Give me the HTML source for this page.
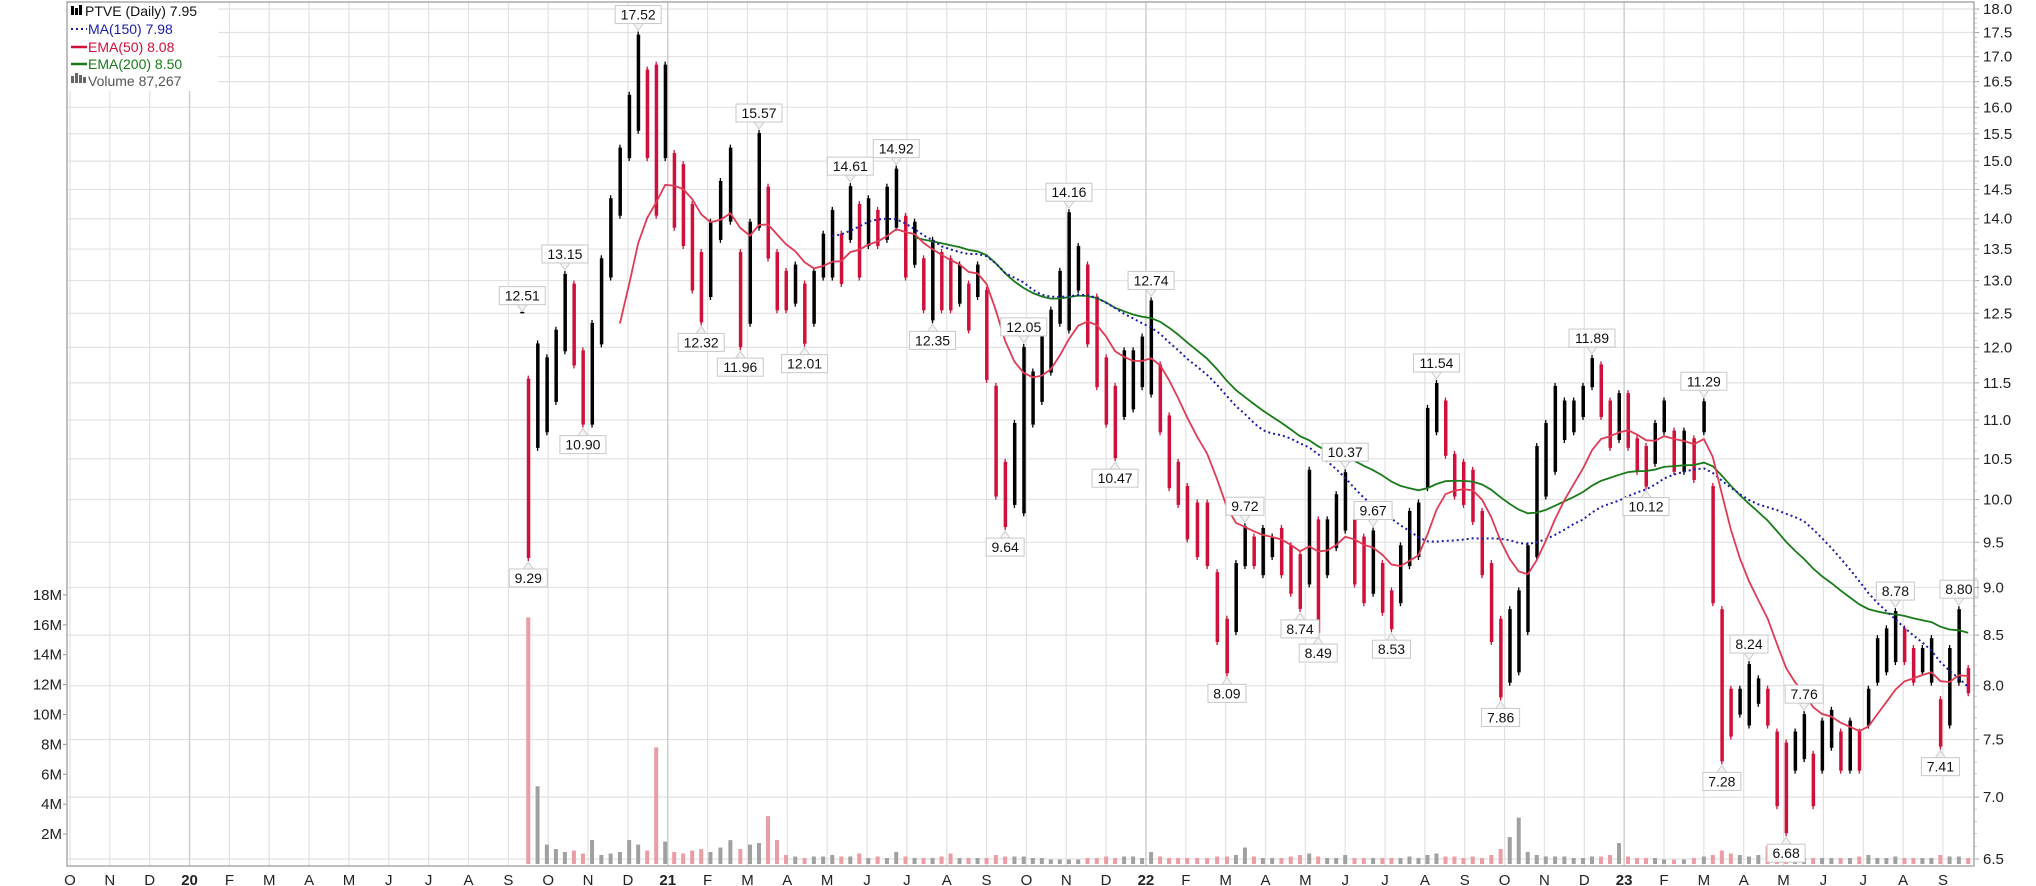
<!DOCTYPE html>
<html><head><meta charset="utf-8"><style>
html,body{margin:0;padding:0;background:#fff;}
svg{display:block;font-family:"Liberation Sans",Arial,sans-serif;}
</style></head><body>
<svg id="chart" width="2036" height="886" viewBox="0 0 2036 886" xmlns="http://www.w3.org/2000/svg">
<g id="grid"></g>
<g id="vol"></g>
<g id="bars"></g>
<g id="lines"></g>
<g id="labels"></g>
<g id="axes"></g>
<g id="legend">
  <rect x="68" y="3" width="150" height="88" fill="#fff"/>
  <g>
    <rect x="71" y="6" width="3" height="9" fill="#000"/><rect x="75" y="8" width="3" height="7" fill="#000"/><rect x="79" y="5" width="3" height="10" fill="#000"/>
    <text x="85" y="16" font-size="14" fill="#111">PTVE (Daily) 7.95</text>
  </g>
  <g>
    <line x1="71" y1="29" x2="87" y2="29" stroke="#1c1ca8" stroke-width="2" stroke-dasharray="2,3"/>
    <text x="88" y="34" font-size="14" fill="#1c1ca8">MA(150) 7.98</text>
  </g>
  <g>
    <line x1="71" y1="47" x2="87" y2="47" stroke="#d0103a" stroke-width="2.5"/>
    <text x="88" y="52" font-size="14" fill="#d0103a">EMA(50) 8.08</text>
  </g>
  <g>
    <line x1="71" y1="64" x2="87" y2="64" stroke="#1a7a1a" stroke-width="2.5"/>
    <text x="88" y="69" font-size="14" fill="#1a7a1a">EMA(200) 8.50</text>
  </g>
  <g>
    <rect x="71" y="76" width="3" height="7" fill="#666"/><rect x="75" y="73" width="3" height="10" fill="#666"/><rect x="79" y="75" width="3" height="8" fill="#666"/><rect x="83" y="77" width="3" height="6" fill="#666"/>
    <text x="88" y="86" font-size="14" fill="#555">Volume 87,267</text>
  </g>
</g>
</svg>
<script>
// ---- data (weekly, starting week of 2020-09-14) ----
var startDate = [2020, 9, 14];
var highs = [11.6,12.1,11.9,12.3,13.15,13.0,12.0,12.4,13.4,14.4,15.3,16.3,17.52,16.8,16.9,16.9,
15.2,15.0,14.3,13.5,14.0,14.7,15.3,13.5,14.0,15.57,14.6,13.5,13.2,13.3,13.0,13.2,13.8,14.2,13.8,14.61,14.3,14.4,14.2,14.6,14.92,14.1,14.0,13.4,13.7,13.5,13.4,13.3,13.0,13.3,12.9,11.5,10.5,11.0,
12.05,11.7,12.2,12.6,13.2,14.16,13.6,13.3,12.8,11.9,11.5,12.0,12.0,12.2,12.74,11.8,11.1,10.5,10.2,10.0,10.0,9.2,8.7,9.3,9.72,9.6,9.7,9.6,9.7,9.5,9.4,10.4,9.8,9.8,10.1,10.37,9.8,9.6,9.67,9.3,9.0,9.5,9.9,10.0,11.2,11.54,11.3,10.6,10.5,10.4,9.9,9.3,
8.7,8.8,9.0,9.5,10.7,11.0,11.5,11.3,11.3,11.5,11.89,11.8,11.3,11.4,11.4,10.8,10.7,11.0,11.3,10.9,10.9,10.8,11.29,10.2,8.8,8.0,8.0,8.24,8.1,8.0,7.6,7.5,7.6,7.76,7.4,7.7,7.8,7.6,7.7,7.6,8.0,8.5,8.6,8.78,8.6,8.4,8.4,8.5,7.9,8.4,8.80,8.2];
var lows = [9.29,10.6,10.8,11.2,11.9,11.7,10.9,10.9,12.0,13.0,14.0,15.0,15.5,15.0,14.0,15.0,
13.8,13.5,12.8,12.32,12.7,13.6,13.9,11.96,12.3,13.8,13.3,12.5,12.5,12.6,12.01,12.3,13.0,13.0,12.9,13.6,13.0,13.5,13.5,13.6,13.8,13.0,13.2,12.5,12.35,12.5,12.5,12.6,12.2,12.7,11.5,10.0,9.64,9.9,
9.8,10.9,11.2,11.6,12.3,12.2,12.8,12.0,11.4,10.9,10.47,11.0,11.1,11.4,11.3,10.8,10.1,9.9,9.5,9.3,9.2,8.4,8.09,8.5,9.2,9.2,9.1,9.3,9.1,8.9,8.74,9.0,8.49,9.1,9.4,9.6,9.0,8.8,8.9,8.7,8.53,8.8,9.2,9.3,10.1,10.8,10.5,10.0,9.9,9.7,9.1,8.4,
7.86,8.0,8.1,8.5,9.3,10.0,10.3,10.7,10.8,11.0,11.4,11.0,10.6,10.7,10.6,10.3,10.12,10.4,10.8,10.3,10.3,10.2,10.8,8.8,7.28,7.5,7.7,7.6,7.8,7.6,6.9,6.68,7.2,7.3,6.9,7.2,7.4,7.2,7.2,7.2,7.6,8.0,8.1,8.2,8.2,8.0,8.1,8.0,7.41,7.6,8.0,7.9];
var volumes = [16.5,5.2,1.3,1.0,0.8,0.9,0.7,1.6,0.6,0.7,0.8,1.6,1.3,0.9,7.8,1.5,
0.8,0.7,0.9,1.0,0.8,1.1,1.6,1.0,1.3,1.4,3.2,1.6,0.6,0.5,0.4,0.5,0.5,0.6,0.5,0.5,0.7,0.4,0.5,0.4,0.8,0.5,0.4,0.4,0.4,0.5,0.7,0.4,0.4,0.4,0.4,0.6,0.5,0.5,
0.5,0.4,0.4,0.3,0.3,0.3,0.3,0.4,0.4,0.5,0.4,0.5,0.5,0.4,0.8,0.5,0.4,0.4,0.4,0.4,0.4,0.5,0.5,0.6,1.1,0.5,0.4,0.4,0.4,0.5,0.6,0.7,0.5,0.4,0.4,0.6,0.4,0.4,0.4,0.4,0.4,0.4,0.5,0.4,0.6,0.7,0.5,0.5,0.4,0.5,0.4,0.6,
1.0,1.8,3.1,0.8,0.6,0.5,0.5,0.5,0.4,0.4,0.5,0.5,0.6,1.4,0.5,0.4,0.4,0.4,0.3,0.3,0.3,0.4,0.5,0.6,0.9,0.7,0.6,0.5,0.6,1.2,0.6,0.5,0.5,0.4,0.4,0.4,0.4,0.4,0.4,0.5,0.6,0.4,0.4,0.5,0.4,0.4,0.4,0.4,0.6,0.5,0.5,0.4];
// annotations: [week index, 'h' or 'l']
var annotIdx = [0,4,6,12,19,23,25,30,35,40,44,54,52,59,64,68,76,78,84,86,89,92,94,99,106,116,122,128,130,133,137,139,149,154,156];
var annotType = ['l','h','l','h','l','l','h','l','h','h','l','h','l','h','l','h','l','h','l','l','h','h','l','h','l','h','l','h','l','h','l','h','h','l','h'];
var yTicks = [18.0,17.5,17.0,16.5,16.0,15.5,15.0,14.5,14.0,13.5,13.0,12.5,12.0,11.5,11.0,10.5,10.0,9.5,9.0,8.5,8.0,7.5,7.0,6.5];
var volTicks = [2,4,6,8,10,12,14,16,18];
var monthLabels = ['O','N','D','20','F','M','A','M','J','J','A','S','O','N','D','21','F','M','A','M','J','J','A','S','O','N','D','22','F','M','A','M','J','J','A','S','O','N','D','23','F','M','A','M','J','J','A','S'];

// ---- geometry ----
var L=67, R=1974, T=2, B=866;
var X0=70, MW=39.85;
var Y0=9, K=834.5, PMAX=18;
var VB=864, VPM=14.95;
function yP(p){return Y0 + K*Math.log(PMAX/p);}
function yV(v){return VB - v*VPM;}
function xMonth(m){return X0 + m*MW;}
function xWeek(i){
  var d=new Date(startDate[0],startDate[1]-1,startDate[2]+i*7+2);
  var y=d.getFullYear(), mo=d.getMonth(), day=d.getDate();
  var dim=new Date(y,mo+1,0).getDate();
  var m=(y-2019)*12+mo-9+(day-1)/dim;
  return xMonth(m);
}
var NS='http://www.w3.org/2000/svg';
function mk(tag,attrs,parent){var e=document.createElementNS(NS,tag);for(var k in attrs)e.setAttribute(k,attrs[k]);parent.appendChild(e);return e;}

var grid=document.getElementById('grid'), axes=document.getElementById('axes');
yTicks.forEach(function(p){
  var y=yP(p);
  var g=mk('line',{x1:L,x2:R,y1:y,y2:y,stroke:'#e2e2e2','stroke-width':1.2},grid);
  
  
  var t=mk('text',{x:1983,y:y+5,'font-size':15,fill:'#222'},axes);
  t.textContent=p.toFixed(1);
  
  
  mk('line',{x1:R,x2:R+5,y1:y,y2:y,stroke:'#999'},axes);
});
for(var p=6.5;p<=18.001;p+=0.1){var yy=yP(p);mk('line',{x1:R,x2:R+3,y1:yy,y2:yy,stroke:'#bbb','stroke-width':0.8},axes);}
monthLabels.forEach(function(lbl,m){
  var x=xMonth(m), isYear=/\d/.test(lbl);
  var g=mk('line',{x1:x,x2:x,y1:T,y2:B,stroke:isYear?'#cfcfcf':'#e2e2e2','stroke-width':isYear?1.5:1.2},grid);
  
  
  var t=mk('text',{x:x,y:885,'font-size':15,'text-anchor':'middle',fill:'#222','font-weight':isYear?'bold':'normal'},axes);
  t.textContent=lbl;
  
  
});
volTicks.forEach(function(v){
  var y=yV(v);
  var t=mk('text',{x:62,y:y+5,'font-size':15,'text-anchor':'end',fill:'#222'},axes);
  t.textContent=v+'M';
  
  
  mk('line',{x1:L-4,x2:L,y1:y,y2:y,stroke:'#999'},axes);
});
var fr=mk('rect',{x:L,y:T,width:R-L,height:B-T,fill:'none',stroke:'#aaa','stroke-width':1.5},axes);



var mids=highs.map(function(h,i){return (h+lows[i])/2;});
var up=mids.map(function(c,i){return i===0?false:c>=mids[i-1];});

var vol=document.getElementById('vol');
volumes.forEach(function(v,i){
  var x=xWeek(i), y=yV(v);
  var r=mk('rect',{x:x-2,y:y,width:4,height:VB-y,fill:up[i]?'#a0a0a0':'#eb9ca4'},vol);
  
  
});
var bars=document.getElementById('bars');
highs.forEach(function(h,i){
  var x=xWeek(i), y1=yP(h), y2=yP(lows[i]);
  var col=up[i]?'#000':'#d0103a';
  var r=mk('rect',{x:x-1.5,y:y1+3,width:3.5,height:Math.max(2,y2-y1-6),fill:col},bars);
  
  
  var w=mk('line',{x1:x,x2:x,y1:y1,y2:y2,stroke:col,'stroke-width':1.3},bars);
  
  
});

function ema(arr,n,start){var out=[],e=null;for(var i=0;i<arr.length;i++){if(i<start-1){out.push(null);continue;}
  if(e===null){var s=0;for(var j=i-n+1;j<=i;j++)s+=arr[Math.max(0,j)];e=s/n;}else{e=arr[i]*2/(n+1)+e*(1-2/(n+1));}out.push(e);}return out;}
function sma(arr,n,start){var out=[];for(var i=0;i<arr.length;i++){if(i<start-1||i<n-1){out.push(null);continue;}var s=0;for(var j=i-n+1;j<=i;j++)s+=arr[j];out.push(s/n);}return out;}
var ema50=ema(mids,10,11), ma150=sma(mids,30,34), ema200=ema(mids,40,43);
function pathOf(a){var d='';a.forEach(function(v,i){if(v===null)return;d+=(d?'L':'M')+xWeek(i).toFixed(1)+','+yP(v).toFixed(1);});return d;}
var lines=document.getElementById('lines');
var l1=mk('path',{d:pathOf(ema200),fill:'none',stroke:'#1a7a1a','stroke-width':1.8},lines);


var l2=mk('path',{d:pathOf(ma150),fill:'none',stroke:'#1c1ca8','stroke-width':2,'stroke-dasharray':'2,3'},lines);


var l3=mk('path',{d:pathOf(ema50),fill:'none',stroke:'#e03a55','stroke-width':1.8},lines);



var labels=document.getElementById('labels');
function addLabel(x,yv,val,isHigh){
  var g=mk('g',{},labels);
  
  
  var txt=val.toFixed(2), w=txt.length*8+6, h=18;
  var by=isHigh? yv-8-h : yv+8;
  var tipY=isHigh? yv-1 : yv+1, baseY=isHigh? by+h : by;
  mk('polygon',{points:(x-5)+','+baseY+' '+(x+5)+','+baseY+' '+x+','+tipY,fill:'#f4f4f4',stroke:'#ccc'},g);
  mk('rect',{x:x-w/2,y:by,width:w,height:h,fill:'#fff',stroke:'#c8c8c8'},g);
  var t=mk('text',{x:x,y:by+14,'font-size':14,'text-anchor':'middle',fill:'#111'},g);
  t.textContent=txt;
}
annotIdx.forEach(function(i,k){
  var isHigh=annotType[k]==='h';
  var v=isHigh?highs[i]:lows[i];
  addLabel(xWeek(i),yP(v),v,isHigh);
});
addLabel(xWeek(0)-6,yP(12.51),12.51,true);
mk('line',{x1:xWeek(0)-8,x2:xWeek(0)-4,y1:yP(12.51),y2:yP(12.51),stroke:'#000','stroke-width':1.5},labels);
</script>
</body></html>
